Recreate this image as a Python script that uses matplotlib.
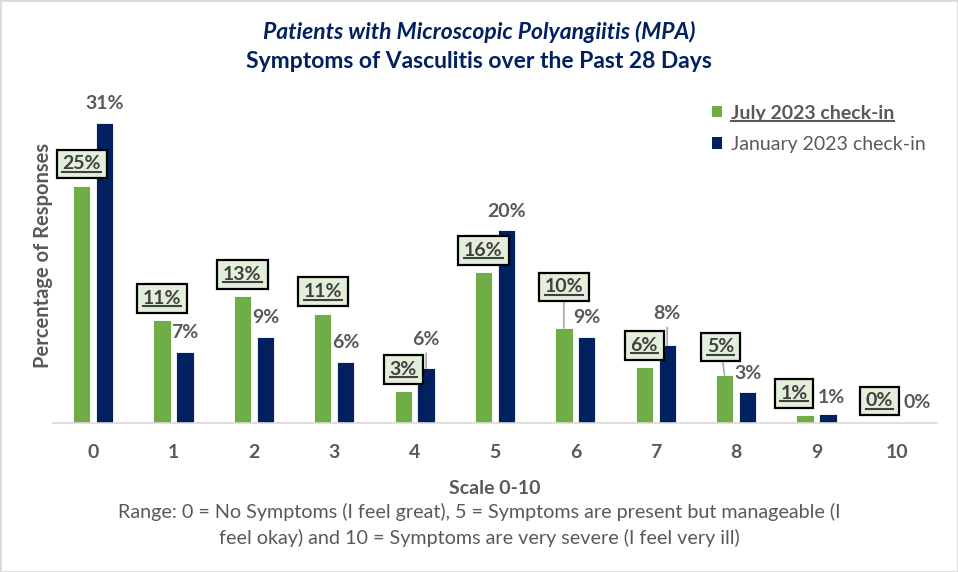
import matplotlib
matplotlib.use("Agg")
import matplotlib.pyplot as plt
from matplotlib.lines import Line2D
from matplotlib.patches import Rectangle, Patch
from matplotlib.text import Text
import numpy as np

plt.rcParams['font.family'] = ['Lato', 'DejaVu Sans']

# ---- data ----
categories = ["0", "1", "2", "3", "4", "5", "6", "7", "8", "9", "10"]
july_2023 = [24.7, 10.7, 13.2, 11.4, 3.3, 15.7, 9.9, 5.8, 5.0, 0.8, 0.0]
jan_2023 = [31.3, 7.4, 9.0, 6.4, 5.7, 20.1, 9.0, 8.1, 3.2, 0.9, 0.0]
series_names = ["July 2023 check-in", "January 2023 check-in"]

title1 = "Patients with Microscopic Polyangiitis (MPA)"
title2 = "Symptoms of Vasculitis over the Past 28 Days"
xlabel = "Scale 0-10"
ylabel = "Percentage of Responses"
note = ("Range: 0 = No Symptoms (I feel great), 5 = Symptoms are present but manageable (I\n"
        "feel okay) and 10 = Symptoms are very severe (I feel very ill)")

# label placement (pixel offsets from bar top), leader line flags
july_off = [(0, 22)] * 11
july_off[6] = (0, 41); july_off[8] = (-4, 28); july_off[9] = (-11, 22); july_off[10] = (-6, 22)
july_lead = [False] * 11
july_lead[6] = True; july_lead[8] = True
jan_off = [(0, 19)] * 11
jan_off[4] = (0, 29); jan_off[7] = (0, 32); jan_off[9] = (3, 17); jan_off[10] = (9, 21)
jan_lead = [False] * 11
jan_lead[4] = True; jan_lead[7] = True

GREEN = "#70AD47"
NAVY = "#002060"
GREY = "#595959"
DGREY = "#404040"

W, H = 958, 572
fig = plt.figure(figsize=(W / 100, H / 100), dpi=100)
ax = fig.add_axes([53 / W, (H - 423) / H, (937 - 53) / W, 336 / H])

x = np.arange(len(categories))
bw = 0.215
off = 0.143
ax.bar(x - off, july_2023, bw, color=GREEN, edgecolor="white", linewidth=0.6, zorder=2)
ax.bar(x + off, jan_2023, bw, color=NAVY, edgecolor="white", linewidth=0.6, zorder=2)

ax.set_xlim(-0.5, len(categories) - 0.5)
ax.set_ylim(0, 35)
for s in ["top", "right", "left"]:
    ax.spines[s].set_visible(False)
ax.spines["bottom"].set_color("#D9D9D9")
ax.spines["bottom"].set_linewidth(1.2)
ax.set_yticks([])
ax.set_xticks(x)
ax.set_xticklabels(categories, fontsize=14, fontweight="bold", color=GREY)
ax.tick_params(axis="x", length=0, pad=15)
ax.set_xlabel(xlabel, fontsize=14, fontweight="bold", color=GREY, labelpad=14)
ax.set_ylabel(ylabel, fontsize=14.5, fontweight="bold", color=GREY, labelpad=0)

july_texts = []
for i, v in enumerate(july_2023):
    dx, dy = july_off[i]
    ap = dict(arrowstyle="-", color="#A6A6A6", lw=1.2, shrinkA=0, shrinkB=0) if july_lead[i] else None
    t = ax.annotate(f"{round(v)}%", xy=(x[i] - off, v), xytext=(dx, dy), textcoords="offset pixels",
                    ha="center", va="center", fontsize=14, fontweight="bold", color=DGREY,
                    bbox=dict(boxstyle="square,pad=0.3", facecolor="#E2EFDA", edgecolor="black", linewidth=1.6),
                    arrowprops=ap, zorder=4)
    july_texts.append(t)

for i, v in enumerate(jan_2023):
    dx, dy = jan_off[i]
    ap = dict(arrowstyle="-", color="#A6A6A6", lw=1.2, shrinkA=2, shrinkB=0) if jan_lead[i] else None
    ax.annotate(f"{round(v)}%", xy=(x[i] + off, v), xytext=(dx, dy), textcoords="offset pixels",
                ha="center", va="center", fontsize=14, fontweight="bold", color=GREY,
                arrowprops=ap, zorder=4)

fig.text(0.5, 1 - 32 / H, title1, ha="center", va="center", fontsize=16.5,
         fontweight="bold", fontstyle="italic", color=NAVY)
fig.text(0.5, 1 - 62 / H, title2, ha="center", va="center", fontsize=16.5,
         fontweight="bold", color=NAVY)
fig.text(0.5, 1 - 525 / H, note, ha="center", va="center", fontsize=14.2, color=GREY,
         linespacing=1.55)

handles = [Patch(facecolor=GREEN), Patch(facecolor=NAVY)]
leg = fig.legend(handles, series_names, loc="upper left", bbox_to_anchor=(694 / W, 1 - 87 / H),
                 frameon=False, fontsize=14, handlelength=0.55, handleheight=0.55,
                 handletextpad=0.45, labelspacing=0.75, labelcolor=GREY)
leg.get_texts()[0].set_fontweight("bold")

fig.patches.append(Rectangle((0, 0), 1, 1, transform=fig.transFigure, fill=False,
                             edgecolor="#D9D9D9", linewidth=2))

# underlines
fig.canvas.draw()
r = fig.canvas.get_renderer()
inv = fig.transFigure.inverted()
def underline(t, lw, color):
    bb = Text.get_window_extent(t, r)
    descent = t._get_layout(r)[2]
    y = bb.y0 + descent - 2.5
    (fx0, fy), (fx1, _) = inv.transform([(bb.x0, y), (bb.x1, y)])
    fig.add_artist(Line2D([fx0, fx1], [fy, fy], transform=fig.transFigure, color=color, lw=lw, zorder=10))

for t in july_texts:
    underline(t, 1.5, DGREY)
underline(leg.get_texts()[0], 1.5, GREY)

fig.savefig("out.png", dpi=100)
